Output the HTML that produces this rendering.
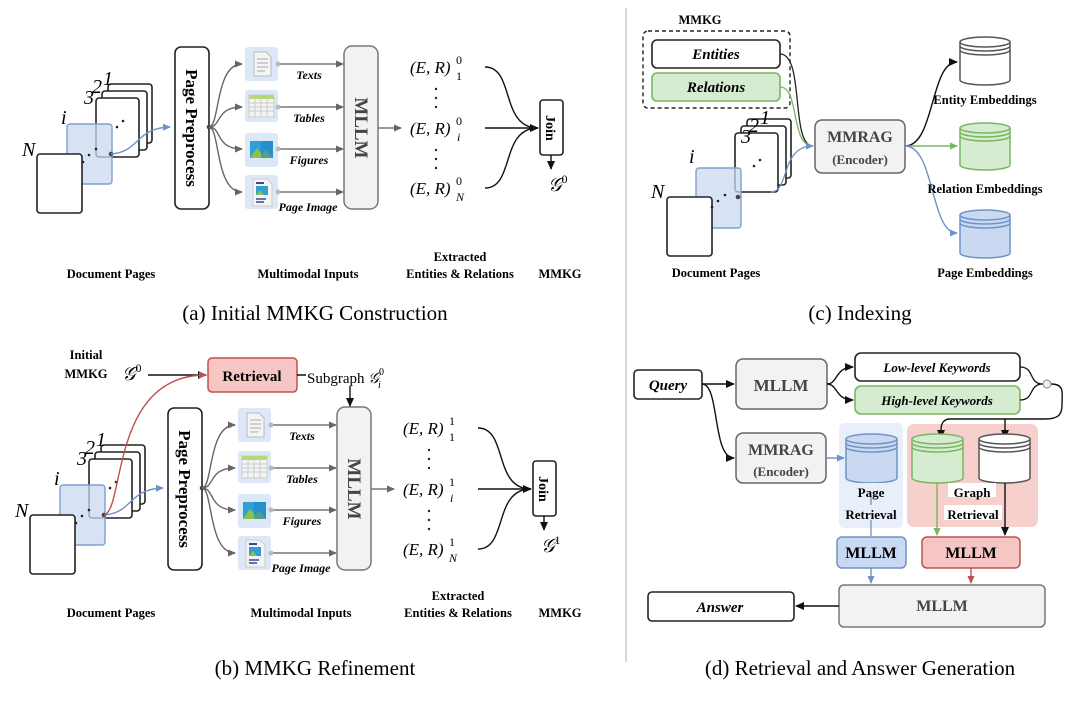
<!DOCTYPE html>
<html><head><meta charset="utf-8"><style>
html,body{margin:0;padding:0;background:#fff;}
svg{display:block;}
text{font-family:"Liberation Serif",serif;}
.b{font-weight:bold;}
.bi{font-weight:bold;font-style:italic;}
</style></head><body>
<svg width="1080" height="701" viewBox="0 0 1080 701" xmlns="http://www.w3.org/2000/svg">
<defs>
<marker id="ag" markerWidth="8" markerHeight="8" refX="7" refY="4" orient="auto" markerUnits="userSpaceOnUse"><path d="M0,0.5 L8,4 L0,7.5z" fill="#666"/></marker>
<marker id="ak" markerWidth="9" markerHeight="9" refX="8" refY="4.5" orient="auto" markerUnits="userSpaceOnUse"><path d="M0,0.5 L9,4.5 L0,8.5z" fill="#111"/></marker>
<marker id="ab" markerWidth="8" markerHeight="8" refX="7" refY="4" orient="auto" markerUnits="userSpaceOnUse"><path d="M0,0.5 L8,4 L0,7.5z" fill="#6f93c6"/></marker>
<marker id="ar" markerWidth="8" markerHeight="8" refX="7" refY="4" orient="auto" markerUnits="userSpaceOnUse"><path d="M0,0.5 L8,4 L0,7.5z" fill="#c0504d"/></marker>
<marker id="agr" markerWidth="8" markerHeight="8" refX="7" refY="4" orient="auto" markerUnits="userSpaceOnUse"><path d="M0,0.5 L8,4 L0,7.5z" fill="#7ab560"/></marker>

<g id="icons">
 <rect x="0" y="0" width="33" height="34" rx="3" fill="#dce7f7"/>
 <path d="M9,5 h12 l5,5 v19 h-17z" fill="#f4f4f4" stroke="#bbb"/>
 <path d="M12,12h11M12,16h11M12,20h11M12,24h8" stroke="#aaa"/>
</g>
<g id="tables">
 <rect x="0" y="0" width="33" height="32" rx="3" fill="#dce7f7"/>
 <rect x="4" y="5" width="25" height="22" fill="#f4f4f4" stroke="#ccc"/>
 <rect x="4" y="5" width="25" height="4" fill="#b6d77a"/>
 <path d="M4,13h25M4,17h25M4,21h25M10,9v18M16,9v18M22,9v18" stroke="#ccc"/>
</g>
<g id="figs">
 <rect x="0" y="0" width="33" height="34" rx="3" fill="#dce7f7"/>
 <rect x="5" y="8" width="23" height="17" fill="#2f9fd6"/>
 <path d="M5,25 L12,15 L17,21 L21,17 L28,25z" fill="#8bc34a"/>
 <rect x="16" y="8" width="12" height="17" fill="#1f7fc0" opacity="0.5"/>
</g>
<g id="pimg">
 <rect x="0" y="0" width="33" height="34" rx="3" fill="#dce7f7"/>
 <path d="M8,4 h14 l5,5 v22 h-19z" fill="#f4f4f4" stroke="#ccc"/>
 <path d="M11,8h8" stroke="#3c4a8a" stroke-width="2"/>
 <rect x="11" y="11" width="12" height="9" fill="#2f9fd6"/>
 <path d="M11,20 L15,15 L19,20z" fill="#8bc34a"/>
 <path d="M11,24h10M11,27h8" stroke="#3c4a8a" stroke-width="1.5"/>
</g>
</defs>

<line x1="626" y1="8" x2="626" y2="662" stroke="#ccc" stroke-width="1.5"/>

<!-- ===== Panel (a) core ===== -->
<g id="pa">
 <rect x="108" y="84" width="44" height="59" rx="3" fill="#fff" stroke="#222" stroke-width="1.6"/>
 <rect x="102" y="91" width="45" height="59" rx="3" fill="#fff" stroke="#222" stroke-width="1.6"/>
 <rect x="96" y="98" width="43" height="59" rx="3" fill="#fff" stroke="#222" stroke-width="1.6"/>
 <rect x="67" y="124" width="45" height="60" rx="3" fill="#c9d9f2" fill-opacity="0.75" stroke="#7f9fd0" stroke-width="1.4"/>
 <rect x="37" y="154" width="45" height="59" rx="3" fill="#fff" stroke="#222" stroke-width="1.6"/>
 <circle cx="123" cy="121" r="1.3" fill="#222"/><circle cx="117" cy="127" r="1.3" fill="#222"/>
 <circle cx="96" cy="149" r="1.3" fill="#222"/><circle cx="89" cy="155" r="1.3" fill="#222"/><circle cx="83" cy="162" r="1.3" fill="#222"/>
 <circle cx="111" cy="154" r="2.3" fill="#444"/>
 <path d="M111,154 C140,152 135,128 170,127" fill="none" stroke="#6f93c6" stroke-width="1.4" marker-end="url(#ab)"/>
 <rect x="175" y="47" width="34" height="162" rx="6" fill="#fff" stroke="#222" stroke-width="1.6"/>
 <text transform="translate(186,128) rotate(90)" class="b" font-size="17" text-anchor="middle">Page Preprocess</text>
 <circle cx="209" cy="127" r="2.3" fill="#444"/>
 <path d="M209,127 C220,127 215,64 242,64" fill="none" stroke="#666" stroke-width="1.4" marker-end="url(#ag)"/>
 <path d="M209,127 C222,127 215,107 242,107" fill="none" stroke="#666" stroke-width="1.4" marker-end="url(#ag)"/>
 <path d="M209,127 C222,127 215,149 242,149" fill="none" stroke="#666" stroke-width="1.4" marker-end="url(#ag)"/>
 <path d="M209,127 C220,127 215,192 242,192" fill="none" stroke="#666" stroke-width="1.4" marker-end="url(#ag)"/>
 <use href="#icons" x="245" y="47"/>
 <use href="#tables" x="245" y="90"/>
 <use href="#figs" x="245" y="133"/>
 <use href="#pimg" x="245" y="175"/>
 <g stroke="#777" stroke-width="1.4" fill="none">
  <path d="M278,64 H343" marker-end="url(#ag)"/>
  <path d="M278,107 H343" marker-end="url(#ag)"/>
  <path d="M278,149 H343" marker-end="url(#ag)"/>
  <path d="M278,192 H343" marker-end="url(#ag)"/>
 </g>
 <g fill="#bbb"><circle cx="278" cy="64" r="2.5"/><circle cx="278" cy="107" r="2.5"/><circle cx="278" cy="149" r="2.5"/><circle cx="278" cy="192" r="2.5"/></g>
 <g font-size="12" text-anchor="middle">
  <text x="309" y="79" class="bi">Texts</text>
  <text x="309" y="122" class="bi">Tables</text>
  <text x="309" y="164" class="bi">Figures</text>
  <text x="308" y="211" class="bi">Page Image</text>
 </g>
 <rect x="344" y="46" width="34" height="163" rx="8" fill="#f2f2f2" stroke="#777" stroke-width="1.5"/>
 <text transform="translate(355,128) rotate(90)" class="b" font-size="19" fill="#444" text-anchor="middle">MLLM</text>
 <path d="M378,128 H401" stroke="#777" stroke-width="1.5" marker-end="url(#ag)"/>
 <g font-size="17" font-style="italic">
  <text x="410" y="73">(E, R)</text>
  <text x="410" y="134">(E, R)</text>
  <text x="410" y="194">(E, R)</text>
 </g>
 <g font-size="12"><text x="456" y="64">0</text><text x="456" y="80">1</text>
 <text x="456" y="125">0</text><text x="457" y="141" font-style="italic">i</text>
 <text x="456" y="185">0</text><text x="456" y="201" font-style="italic">N</text></g>
 <g fill="#222"><circle cx="436" cy="89" r="1.2"/><circle cx="436" cy="98" r="1.2"/><circle cx="436" cy="107" r="1.2"/>
 <circle cx="436" cy="150" r="1.2"/><circle cx="436" cy="159" r="1.2"/><circle cx="436" cy="168" r="1.2"/></g>
 <g stroke="#111" stroke-width="1.4" fill="none">
  <path d="M485,67 C515,67 500,128 538,128"/>
  <path d="M485,128 H538" marker-end="url(#ak)"/>
  <path d="M485,188 C515,188 500,128 538,128"/>
 </g>
 <rect x="540" y="100" width="23" height="55" rx="3" fill="#fff" stroke="#222" stroke-width="1.6"/>
 <text transform="translate(546,128) rotate(90)" class="b" font-size="14" text-anchor="middle">Join</text>
 <path d="M551,155 V169" stroke="#111" stroke-width="1.4" marker-end="url(#ak)"/>
</g>
<g font-size="20" font-style="italic">
 <text x="103" y="85">1</text><text x="92" y="93">2</text><text x="84" y="104">3</text>
 <text x="61" y="124">i</text><text x="22" y="156">N</text>
</g>
<text x="548" y="191" font-size="19" font-style="italic">𝒢<tspan font-size="12" dy="-8" font-style="normal">0</tspan></text>
<g class="b" font-size="12.5" text-anchor="middle">
 <text x="111" y="278">Document Pages</text>
 <text x="308" y="278">Multimodal Inputs</text>
 <text x="460" y="261">Extracted</text>
 <text x="460" y="278">Entities &amp; Relations</text>
 <text x="560" y="278">MMKG</text>
</g>
<text x="315" y="320" font-size="21" text-anchor="middle">(a) Initial MMKG Construction</text>

<!-- ===== Panel (b) ===== -->
<use href="#pa" transform="translate(-7,361)"/>
<g font-size="20" font-style="italic">
 <text x="96" y="446">1</text><text x="85" y="454">2</text><text x="77" y="465">3</text>
 <text x="54" y="485">i</text><text x="15" y="517">N</text>
</g>
<text x="541" y="552" font-size="19" font-style="italic">𝒢<tspan font-size="12" dy="-8" font-style="normal">1</tspan></text>
<g fill="#fff"><rect x="447" y="415" width="12" height="10"/><rect x="447" y="476" width="12" height="10"/><rect x="447" y="536" width="12" height="10"/></g>
<g font-size="12"><text x="449" y="425">1</text><text x="449" y="486">1</text><text x="449" y="546">1</text></g>
<text x="86" y="359" class="b" font-size="12.5" text-anchor="middle">Initial</text>
<text x="86" y="378" class="b" font-size="12.5" text-anchor="middle">MMKG</text>
<text x="122" y="380" font-size="19" font-style="italic">𝒢<tspan font-size="12" dy="-8" font-style="normal">0</tspan></text>
<path d="M148,375 H206" stroke="#111" stroke-width="1.4" marker-end="url(#ak)"/>
<rect x="208" y="358" width="89" height="34" rx="4" fill="#f5c6c4" stroke="#c0504d" stroke-width="1.5"/>
<text x="252" y="381" class="b" font-size="15" text-anchor="middle">Retrieval</text>
<path d="M104,515 C125,510 110,375 206,375" fill="none" stroke="#c0504d" stroke-width="1.4" marker-end="url(#ar)"/>
<path d="M297,375 H350 V406" fill="none" stroke="#111" stroke-width="1.4" marker-end="url(#ak)"/>
<rect x="306" y="366" width="100" height="20" fill="#fff"/>
<text x="307" y="383" font-size="15">Subgraph <tspan font-style="italic">𝒢</tspan><tspan font-size="10" dy="-8">0</tspan><tspan font-size="10" dx="-6" dy="13" font-style="italic">i</tspan></text>
<g class="b" font-size="12.5" text-anchor="middle">
 <text x="111" y="617">Document Pages</text>
 <text x="301" y="617">Multimodal Inputs</text>
 <text x="458" y="600">Extracted</text>
 <text x="458" y="617">Entities &amp; Relations</text>
 <text x="560" y="617">MMKG</text>
</g>
<text x="315" y="675" font-size="21" text-anchor="middle">(b) MMKG Refinement</text>

<!-- ===== Panel (c) ===== -->
<text x="700" y="24" class="b" font-size="12.5" text-anchor="middle">MMKG</text>
<rect x="643" y="31" width="147" height="77" rx="5" fill="none" stroke="#222" stroke-width="1.4" stroke-dasharray="4,3"/>
<rect x="652" y="40" width="128" height="28" rx="5" fill="#fff" stroke="#222" stroke-width="1.6"/>
<text x="716" y="59" class="bi" font-size="15" text-anchor="middle">Entities</text>
<rect x="652" y="73" width="128" height="28" rx="5" fill="#d6ecd0" stroke="#7ab560" stroke-width="1.6"/>
<text x="716" y="92" class="bi" font-size="15" text-anchor="middle">Relations</text>
<rect x="747" y="119" width="44" height="59" rx="3" fill="#fff" stroke="#222" stroke-width="1.6"/>
<rect x="741" y="126" width="45" height="59" rx="3" fill="#fff" stroke="#222" stroke-width="1.6"/>
<rect x="735" y="133" width="43" height="59" rx="3" fill="#fff" stroke="#222" stroke-width="1.6"/>
<rect x="696" y="168" width="45" height="60" rx="3" fill="#c9d9f2" fill-opacity="0.75" stroke="#7f9fd0" stroke-width="1.4"/>
<rect x="667" y="197" width="45" height="59" rx="3" fill="#fff" stroke="#222" stroke-width="1.6"/>
<circle cx="738" cy="197" r="2.3" fill="#444"/>
<g fill="#222"><circle cx="760" cy="160" r="1.3"/><circle cx="754" cy="166" r="1.3"/><circle cx="725" cy="195" r="1.3"/><circle cx="718" cy="201" r="1.3"/><circle cx="712" cy="207" r="1.3"/></g>
<g font-size="20" font-style="italic">
 <text x="760" y="124">1</text><text x="749" y="132">2</text><text x="741" y="143">3</text>
 <text x="689" y="163">i</text><text x="651" y="198">N</text>
</g>
<path d="M780,54 C805,54 790,146 813,146" fill="none" stroke="#222" stroke-width="1.3"/>
<path d="M780,87 C800,87 790,146 813,146" fill="none" stroke="#7ab560" stroke-width="1.3"/>
<path d="M771,192 C790,192 780,146 813,146" fill="none" stroke="#6f93c6" stroke-width="1.3" marker-end="url(#ab)"/>
<rect x="815" y="120" width="90" height="53" rx="7" fill="#f2f2f2" stroke="#666" stroke-width="1.5"/>
<text x="860" y="142" class="b" font-size="16" fill="#444" text-anchor="middle">MMRAG</text>
<text x="860" y="164" class="b" font-size="13" fill="#444" text-anchor="middle">(Encoder)</text>
<path d="M905,146 C935,146 930,62 957,62" fill="none" stroke="#111" stroke-width="1.4" marker-end="url(#ak)"/>
<path d="M905,146 H957" fill="none" stroke="#7ab560" stroke-width="1.4" marker-end="url(#agr)"/>
<path d="M905,146 C935,146 930,233 957,233" fill="none" stroke="#6f93c6" stroke-width="1.4" marker-end="url(#ab)"/>
<g stroke-width="1.5">
 <path d="M960,42 V80 A25,5 0 0 0 1010,80 V42" fill="#fff" stroke="#555"/>
 <ellipse cx="985" cy="42" rx="25" ry="5" fill="#fff" stroke="#555"/>
 <path d="M960,46 A25,5 0 0 0 1010,46 M960,50 A25,5 0 0 0 1010,50" fill="none" stroke="#555"/>
 <path d="M960,128 V165 A25,5 0 0 0 1010,165 V128" fill="#d6ecd0" stroke="#7ab560"/>
 <ellipse cx="985" cy="128" rx="25" ry="5" fill="#d6ecd0" stroke="#7ab560"/>
 <path d="M960,132 A25,5 0 0 0 1010,132 M960,136 A25,5 0 0 0 1010,136" fill="none" stroke="#7ab560"/>
 <path d="M960,215 V253 A25,5 0 0 0 1010,253 V215" fill="#c9d9f2" stroke="#6f93c6"/>
 <ellipse cx="985" cy="215" rx="25" ry="5" fill="#c9d9f2" stroke="#6f93c6"/>
 <path d="M960,219 A25,5 0 0 0 1010,219 M960,223 A25,5 0 0 0 1010,223" fill="none" stroke="#6f93c6"/>
</g>
<g class="b" font-size="12.5" text-anchor="middle">
 <text x="985" y="104">Entity Embeddings</text>
 <text x="985" y="193">Relation Embeddings</text>
 <text x="985" y="277">Page Embeddings</text>
 <text x="716" y="277">Document Pages</text>
</g>
<text x="860" y="320" font-size="21" text-anchor="middle">(c) Indexing</text>

<!-- ===== Panel (d) ===== -->
<rect x="839" y="423" width="64" height="105" rx="5" fill="#e8effa"/>
<rect x="907" y="424" width="131" height="103" rx="7" fill="#f7cfcd"/>
<rect x="634" y="370" width="68" height="29" rx="4" fill="#fff" stroke="#222" stroke-width="1.6"/>
<text x="668" y="390" class="bi" font-size="15" text-anchor="middle">Query</text>
<path d="M702,384 H734" stroke="#111" stroke-width="1.4" marker-end="url(#ak)"/>
<path d="M702,384 C720,384 712,458 734,458" fill="none" stroke="#111" stroke-width="1.4" marker-end="url(#ak)"/>
<rect x="736" y="359" width="91" height="50" rx="7" fill="#f2f2f2" stroke="#666" stroke-width="1.5"/>
<text x="781" y="391" class="b" font-size="17" fill="#444" text-anchor="middle">MLLM</text>
<path d="M827,384 C838,384 835,367 853,367" fill="none" stroke="#111" stroke-width="1.4" marker-end="url(#ak)"/>
<path d="M827,384 C838,384 835,400 853,400" fill="none" stroke="#111" stroke-width="1.4" marker-end="url(#ak)"/>
<rect x="855" y="353" width="165" height="28" rx="6" fill="#fff" stroke="#222" stroke-width="1.6"/>
<text x="937" y="372" class="bi" font-size="13" text-anchor="middle">Low-level Keywords</text>
<rect x="855" y="386" width="165" height="28" rx="6" fill="#d6ecd0" stroke="#7ab560" stroke-width="1.6"/>
<text x="937" y="405" class="bi" font-size="13" text-anchor="middle">High-level Keywords</text>
<path d="M1020,367 C1035,367 1028,384 1043,384 M1020,400 C1035,400 1028,384 1043,384" fill="none" stroke="#111" stroke-width="1.3"/>
<path d="M1051,384 C1065,384 1062,393 1062,405 C1062,415 1058,419 1045,419 H950 C945,419 941,422 941,430 V438" fill="none" stroke="#111" stroke-width="1.4" marker-end="url(#ak)"/>
<path d="M1005,419 V438" fill="none" stroke="#111" stroke-width="1.4" marker-end="url(#ak)"/>
<circle cx="1047" cy="384" r="4" fill="#eee" stroke="#888"/>
<rect x="736" y="433" width="90" height="50" rx="7" fill="#f2f2f2" stroke="#666" stroke-width="1.5"/>
<text x="781" y="455" class="b" font-size="16" fill="#444" text-anchor="middle">MMRAG</text>
<text x="781" y="476" class="b" font-size="13" fill="#444" text-anchor="middle">(Encoder)</text>
<path d="M826,458 H844" stroke="#6f93c6" stroke-width="1.4" marker-end="url(#ab)"/>
<g stroke-width="1.5">
 <path d="M846,439 V478 A25.5,5 0 0 0 897,478 V439" fill="#c9d9f2" stroke="#6f93c6"/>
 <ellipse cx="871.5" cy="439" rx="25.5" ry="5" fill="#c9d9f2" stroke="#6f93c6"/>
 <path d="M846,443 A25.5,5 0 0 0 897,443 M846,447 A25.5,5 0 0 0 897,447" fill="none" stroke="#6f93c6"/>
 <path d="M912,439 V478 A25.5,5 0 0 0 963,478 V439" fill="#d6ecd0" stroke="#7ab560"/>
 <ellipse cx="937.5" cy="439" rx="25.5" ry="5" fill="#d6ecd0" stroke="#7ab560"/>
 <path d="M912,443 A25.5,5 0 0 0 963,443 M912,447 A25.5,5 0 0 0 963,447" fill="none" stroke="#7ab560"/>
 <path d="M979,439 V478 A25.5,5 0 0 0 1030,478 V439" fill="#fff" stroke="#555"/>
 <ellipse cx="1004.5" cy="439" rx="25.5" ry="5" fill="#fff" stroke="#555"/>
 <path d="M979,443 A25.5,5 0 0 0 1030,443 M979,447 A25.5,5 0 0 0 1030,447" fill="none" stroke="#555"/>
</g>
<path d="M871,483 V536" stroke="#6f93c6" stroke-width="1.3"/>
<path d="M937,483 V535" stroke="#7ab560" stroke-width="1.4" marker-end="url(#agr)"/>
<path d="M1005,483 V535" stroke="#111" stroke-width="1.4" marker-end="url(#ak)"/>
<g class="b" font-size="13" text-anchor="middle">
 <rect x="855" y="483" width="32" height="14" fill="#e8effa"/>
 <text x="871" y="497">Page</text>
 <rect x="842" y="505" width="58" height="15" fill="#e8effa"/>
 <text x="871" y="519">Retrieval</text>
 <rect x="948" y="483" width="48" height="14" fill="#fff"/>
 <text x="972" y="497">Graph</text>
 <rect x="944" y="505" width="58" height="15" fill="#fff"/>
 <text x="973" y="519">Retrieval</text>
</g>
<rect x="837" y="537" width="69" height="31" rx="5" fill="#c9d9f2" stroke="#6f93c6" stroke-width="1.5"/>
<text x="871" y="558" class="b" font-size="16" text-anchor="middle">MLLM</text>
<rect x="922" y="537" width="98" height="31" rx="5" fill="#f5c6c4" stroke="#c0504d" stroke-width="1.5"/>
<text x="971" y="558" class="b" font-size="16" text-anchor="middle">MLLM</text>
<path d="M871,568 V583" stroke="#6f93c6" stroke-width="1.4" marker-end="url(#ab)"/>
<path d="M971,568 V583" stroke="#c0504d" stroke-width="1.4" marker-end="url(#ar)"/>
<rect x="839" y="585" width="206" height="42" rx="5" fill="#f2f2f2" stroke="#777" stroke-width="1.5"/>
<text x="942" y="611" class="b" font-size="16" fill="#444" text-anchor="middle">MLLM</text>
<path d="M839,606 H796" stroke="#111" stroke-width="1.4" marker-end="url(#ak)"/>
<rect x="648" y="592" width="146" height="29" rx="4" fill="#fff" stroke="#222" stroke-width="1.6"/>
<text x="720" y="612" class="bi" font-size="15" text-anchor="middle">Answer</text>
<text x="860" y="675" font-size="21" text-anchor="middle">(d) Retrieval and Answer Generation</text>
</svg>
</body></html>
